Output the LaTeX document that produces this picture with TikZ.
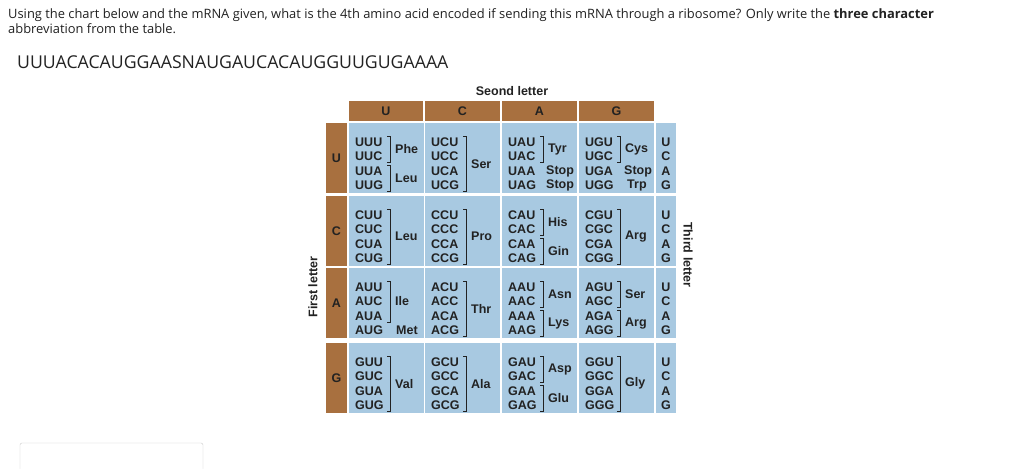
\documentclass[tikz,border=0pt]{standalone}
\usepackage{fontspec}
\setmainfont{Liberation Sans}
\newfontfamily\osans{Open Sans}
\definecolor{brn}{HTML}{A8703F}
\definecolor{blu}{HTML}{A8C9E1}
\definecolor{txt}{HTML}{222222}
\newcommand\mycell[7]{%
  \node[cd] (#3a) at ({#1+6},{#2+19}) {#4};
  \node[cd] (#3b) at ({#1+6},{#2+33.5}) {#5};
  \node[cd] (#3c) at ({#1+6},{#2+48}) {#6};
  \node[cd] (#3d) at ({#1+6},{#2+62.5}) {#7};}
\newcommand\brk[6]{% x,y,from,to,label,name
  \draw[br] ({#1+38},{#2+19+14.5*(#3-1)-6}) -- ({#1+41},{#2+19+14.5*(#3-1)-6}) -- ({#1+41},{#2+19+14.5*(#4-1)+6}) -- ({#1+38},{#2+19+14.5*(#4-1)+6});
  \node[aa] (#6) at ({#1+46},{#2+19+14.5*(#3+#4-2)/2}) {#5};}
\newcommand\lab[5]{\node[aa] (#5) at ({#1+#4},{#2+19+14.5*(#3-1)}) {Stop};}
\begin{document}
\begin{tikzpicture}[x=1pt,y=-1pt,
  cd/.style={anchor=west,inner sep=0,font=\fontsize{12.5}{12}\selectfont\bfseries,text=txt},
  aa/.style={anchor=west,inner sep=0,font=\fontsize{12.5}{12}\selectfont\bfseries,text=txt},
  br/.style={draw=txt,line width=0.7pt},
  hd/.style={inner sep=0,font=\fontsize{12.5}{12}\selectfont\bfseries,text=txt}]
\useasboundingbox (0,0) rectangle (1024,468);
\fill[white] (0,0) rectangle (1024,468);
\node[anchor=west,inner sep=0,font=\osans\fontsize{12.9}{14}\selectfont,text=txt] (q1) at (8,15) {Using the chart below and the mRNA given, what is the 4th amino acid encoded if sending this mRNA through a ribosome? Only write the \textbf{three character}};
\node[anchor=west,inner sep=0,font=\osans\fontsize{12.9}{14}\selectfont,text=txt] (q2) at (8,29) {abbreviation from the table.};
\node[anchor=west,inner sep=0,font=\osans\fontsize{17.7}{18}\selectfont,text=txt] (m) at (17,62) {UUUACACAUGGAASNAUGAUCACAUGGUUGUGAAAA};
\draw[gray!40,rounded corners=2pt] (20,443) rectangle (203,472);
% headers
\node[hd] (sl) at (512,91) {Seond letter};
\foreach \x/\w/\l in {349/423/U,425/500/C,502/577/A,579/654/G}{
  \fill[brn] (\x,101) rectangle (\w,121);
  \node[hd] (h\l) at ({(\x+\w)/2},111) {\l};}
\foreach \y/\l in {123/U,196/C,268/A,343/G}{
  \fill[brn] (326,\y) rectangle (347,{\y+70});
  \node[hd] (f\l) at (336.5,{\y+35}) {\l};
  \fill[blu] (656,\y) rectangle (676,{\y+70});
  \foreach \x in {349,425,502,579}{\fill[blu] (\x,\y) rectangle ({\x+74.5},{\y+70});}
  \node[hd] (t\l1) at (666,{\y+19}) {U};
  \node[hd] (t\l2) at (666,{\y+33.5}) {C};
  \node[hd] (t\l3) at (666,{\y+48}) {A};
  \node[hd] (t\l4) at (666,{\y+62.5}) {G};}
\node[hd,rotate=90] (fl) at (313,287) {First letter};
\node[hd,rotate=-90] (tl) at (688,255) {Third letter};
% row U
\mycell{349}{123}{uu}{UUU}{UUC}{UUA}{UUG}
\brk{349}{123}{1}{2}{Phe}{phe}\brk{349}{123}{3}{4}{Leu}{leu1}
\mycell{425}{123}{uc}{UCU}{UCC}{UCA}{UCG}
\brk{425}{123}{1}{4}{Ser}{ser1}
\mycell{502}{123}{ua}{UAU}{UAC}{UAA}{UAG}
\brk{502}{123}{1}{2}{Tyr}{tyr}
\lab{502}{123}{3}{44}{st1}\lab{502}{123}{4}{44}{st2}
\mycell{579}{123}{ug}{UGU}{UGC}{UGA}{UGG}
\brk{579}{123}{1}{2}{Cys}{cys}
\lab{579}{123}{3}{45}{st3}
\node[aa] (trp) at (627,185.5) {Trp};
% row C
\mycell{349}{196}{cu}{CUU}{CUC}{CUA}{CUG}
\brk{349}{196}{1}{4}{Leu}{leu2}
\mycell{425}{196}{cc}{CCU}{CCC}{CCA}{CCG}
\brk{425}{196}{1}{4}{Pro}{pro}
\mycell{502}{196}{ca}{CAU}{CAC}{CAA}{CAG}
\brk{502}{196}{1}{2}{His}{his}\brk{502}{196}{3}{4}{Gin}{gln}
\mycell{579}{196}{cg}{CGU}{CGC}{CGA}{CGG}
\brk{579}{196}{1}{4}{Arg}{arg1}
% row A
\mycell{349}{268}{au}{AUU}{AUC}{AUA}{AUG}
\brk{349}{268}{1}{3}{Ile}{ile}
\node[aa] (met) at (396,330.5) {Met};
\mycell{425}{268}{ac}{ACU}{ACC}{ACA}{ACG}
\brk{425}{268}{1}{4}{Thr}{thr}
\mycell{502}{268}{aa}{AAU}{AAC}{AAA}{AAG}
\brk{502}{268}{1}{2}{Asn}{asn}\brk{502}{268}{3}{4}{Lys}{lys}
\mycell{579}{268}{ag}{AGU}{AGC}{AGA}{AGG}
\brk{579}{268}{1}{2}{Ser}{ser2}\brk{579}{268}{3}{4}{Arg}{arg2}
% row G
\mycell{349}{343}{gu}{GUU}{GUC}{GUA}{GUG}
\brk{349}{343}{1}{4}{Val}{val}
\mycell{425}{343}{gc}{GCU}{GCC}{GCA}{GCG}
\brk{425}{343}{1}{4}{Ala}{ala}
\mycell{502}{343}{ga}{GAU}{GAC}{GAA}{GAG}
\brk{502}{343}{1}{2}{Asp}{asp}\brk{502}{343}{3}{4}{Glu}{glu}
\mycell{579}{343}{gg}{GGU}{GGC}{GGA}{GGG}
\brk{579}{343}{1}{4}{Gly}{gly}
\end{tikzpicture}
\end{document}
